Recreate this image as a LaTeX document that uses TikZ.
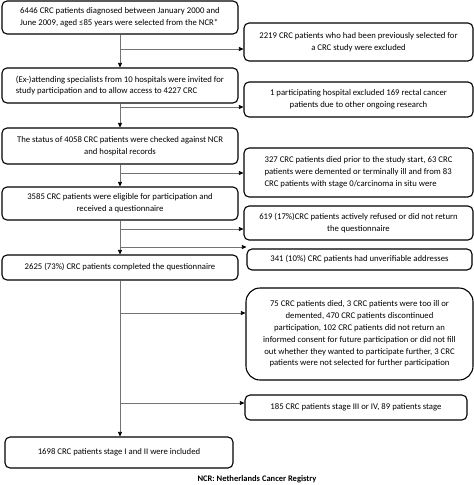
\documentclass[tikz,border=0pt]{standalone}
\usepackage{fontspec}
\setmainfont{Carlito}
\usetikzlibrary{arrows.meta}
\begin{document}
\begin{tikzpicture}[x=1pt,y=-1pt,
  box/.style={draw=black, line width=1.1pt, rounded corners=5pt, inner sep=0pt,
    font=\fontsize{8.7}{11.8}\selectfont},
  conn/.style={draw=black!55, line width=0.7pt, -{Triangle[width=4pt,length=4.5pt,color=black]}}]
\useasboundingbox (0,0) rectangle (474,485);
% left column
\node[box, minimum width=236pt, minimum height=33pt, align=left] (b1) at (120,17.5)
 {6446 CRC patients diagnosed between January 2000 and\\June 2009, aged ≤85 years were selected from the NCR*};
\node[box, minimum width=236pt, minimum height=35pt, align=left] (b2) at (120,85.5)
 {(Ex-)attending specialists from 10 hospitals were invited for\\study participation and to allow access to 4227 CRC};
\node[box, minimum width=236pt, minimum height=36pt, align=center] (b3) at (120,146)
 {The status of 4058 CRC patients were checked against NCR\\and hospital records};
\node[box, minimum width=236pt, minimum height=33pt, align=center] (b4) at (120,203.5)
 {3585 CRC patients were eligible for participation and\\received a questionnaire};
\node[box, minimum width=236pt, minimum height=25pt, align=center] (b5) at (120,267.5)
 {2625 (73\%) CRC patients completed the questionnaire};
\node[box, minimum width=228pt, minimum height=31pt, align=center] (b6) at (119,452.5)
 {1698 CRC patients stage I and II were included};
% right column
\node[box, minimum width=229pt, minimum height=38pt, align=center] (r1) at (358.5,42)
 {2219 CRC patients who had been previously selected for\\a CRC study were excluded};
\node[box, minimum width=229pt, minimum height=35pt, align=center] (r2) at (358.5,99.5)
 {1 participating hospital excluded 169 rectal cancer\\patients due to other ongoing research};
\node[box, minimum width=229pt, minimum height=49pt, align=left] (r3) at (358.5,172.5)
 {327 CRC patients died prior to the study start, 63 CRC\\patients were demented or terminally ill and from 83\\CRC patients with stage 0/carcinoma in situ were};
\node[box, minimum width=229pt, minimum height=34pt, align=center] (r4) at (358.5,223)
 {619 (17\%)CRC patients actively refused or did not return\\the questionnaire};
\node[box, minimum width=225pt, minimum height=21pt, align=center] (r5) at (359.5,259.5)
 {341 (10\%) CRC patients had unverifiable addresses};
\node[box, rounded corners=14pt, minimum width=227pt, minimum height=92pt, align=center] (r6) at (359.5,334)
 {75 CRC patients died, 3 CRC patients were too ill or\\demented, 470 CRC patients discontinued\\participation, 102 CRC patients did not return an\\informed consent for future participation or did not fill\\out whether they wanted to participate further, 3 CRC\\patients were not selected for further participation};
\node[box, minimum width=222pt, minimum height=25pt, align=center] (r7) at (356,407.5)
 {185 CRC patients stage III or IV, 89 patients stage};
\node[font=\fontsize{8.5}{10}\selectfont\bfseries] (cap) at (257,479) {NCR: Netherlands Cancer Registry};
% vertical connectors
\draw[conn] (b1.south) -- (b2.north);
\draw[conn] (b2.south) -- (b3.north);
\draw[conn] (b3.south) -- (b4.north);
\draw[conn] (b4.south) -- (b5.north);
\draw[conn] (b5.south) -- (b5.south |- b6.north);
% branch points
\coordinate (j1) at (120,49);
\coordinate (j2) at (120,107);
\coordinate (j3) at (120,173);
\coordinate (j4) at (120,229);
\coordinate (j5) at (120,247);
\coordinate (j6) at (120,313);
\coordinate (j7) at (120,403);
\draw[conn] (j1) -- (j1 -| r1.west);
\draw[conn] (j2) -- (j2 -| r2.west);
\draw[conn] (j3) -- (j3 -| r3.west);
\draw[conn] (j4) -- (j4 -| r4.west);
\draw[conn] (j5) -- (j5 -| r5.west);
\draw[conn] (j6) -- (j6 -| r6.west);
\draw[conn] (j7) -- (j7 -| r7.west);
\end{tikzpicture}
\end{document}
